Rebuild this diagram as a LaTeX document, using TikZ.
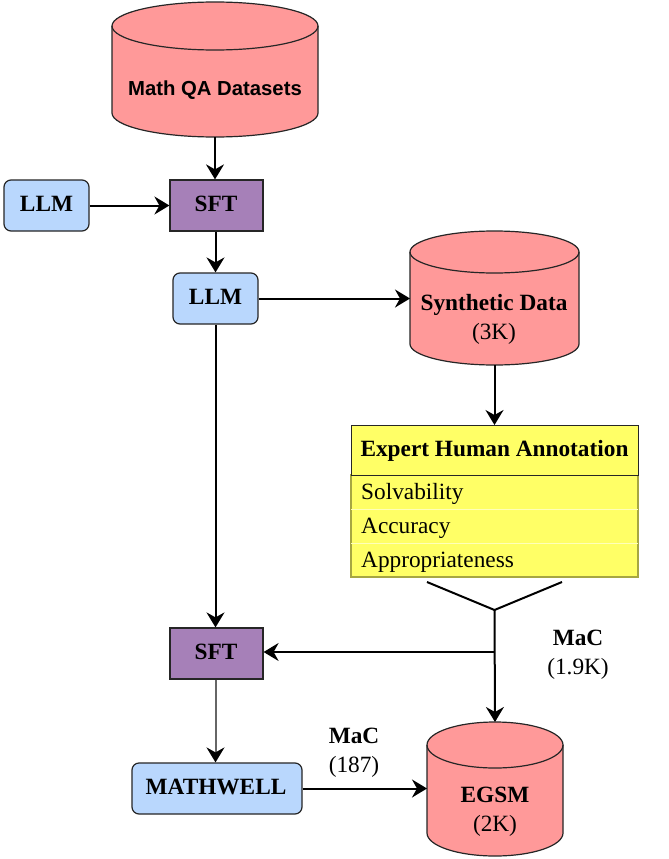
\documentclass[tikz,border=0pt]{standalone}
\usepackage{fontspec}
\setmainfont{Liberation Serif}
\newfontfamily\sansf{Liberation Sans}
\usetikzlibrary{arrows.meta}
\definecolor{cylred}{HTML}{FF9999}
\definecolor{boxblue}{HTML}{B9D7FD}
\definecolor{boxpurple}{HTML}{A680B8}
\definecolor{boxyellow}{HTML}{FFFF66}
\definecolor{edgegray}{HTML}{666666}
\newcommand{\dbcyl}[6]{% name, cx, half width, top, ry, bottom
  \pgfmathsetmacro{\ytopc}{#4+#5}
  \pgfmathsetmacro{\ybotc}{#6-#5}
  \pgfmathsetmacro{\xl}{#2-#3}
  \pgfmathsetmacro{\xr}{#2+#3}
  \draw[cyl] (\xl,\ytopc) arc[start angle=180,end angle=360,x radius=#3,y radius=#5]
    -- (\xr,\ybotc) arc[start angle=0,end angle=180,x radius=#3,y radius=#5] -- cycle;
  \draw[cyl,fill=none] (\xl,\ytopc) arc[start angle=180,end angle=0,x radius=#3,y radius=#5];
  \node[inner sep=0pt,outer sep=0pt,minimum width=2*#3,minimum height=#6-#4] (#1) at (#2,{(#4+#6)/2}) {};
}
\tikzset{
  x=1pt,y=-1pt,
  cyl/.style={fill=cylred,draw=black!85,line width=1.2pt},
  flow/.style={draw=black,line width=2pt,-{Stealth[length=15pt,width=18pt,inset=5pt]}},
  plain/.style={draw=black,line width=2pt},
  txt/.style={font=\fontsize{23.3}{29}\selectfont,inner sep=0pt,align=center},
  btxt/.style={font=\fontsize{23.3}{29}\selectfont\bfseries,inner sep=0pt},
  llm/.style={draw=black!85,line width=1.2pt,fill=boxblue,rounded corners=7pt,inner sep=0pt,minimum height=51pt},
  sft/.style={draw=black!85,line width=1.2pt,fill=boxpurple,inner sep=0pt,minimum width=93pt,minimum height=51pt},
  row/.style={fill=boxyellow,anchor=north west,inner sep=0pt,minimum width=287pt,minimum height=34pt},
}
\begin{document}
\begin{tikzpicture}
\useasboundingbox (0,0) rectangle (669,859);
\fill[white] (0,0) rectangle (669,859);
\dbcyl{qa}{215}{103}{2}{24}{137}
\dbcyl{syn}{494.5}{84.5}{231}{21}{365}
\dbcyl{egsm}{495}{68}{722}{23}{856}
\node[font=\fontsize{20.3}{24}\selectfont\bfseries\sansf,inner sep=0pt] (qal) at (215,90) {Math QA Datasets};
\node[txt] (synl) at (494,319) {\textbf{Synthetic Data}\\(3K)};
\node[txt] (egsml) at (495,812) {\textbf{EGSM}\\(2K)};
\node[llm,minimum width=85pt] (llma) at (46.5,205.5) {};
\node[btxt] (llmat) at (46.5,204) {LLM};
\node[sft] (sfta) at (216.5,205.5) {};
\node[btxt] (sftat) at (216,204) {SFT};
\node[llm,minimum width=85pt] (llmb) at (215.5,298.5) {};
\node[btxt] (llmbt) at (215.5,297) {LLM};
\node[sft] (sftb) at (216.5,653.5) {};
\node[btxt] (sftbt) at (216,652) {SFT};
\node[llm,minimum width=170pt] (mw) at (217,788.5) {};
\node[btxt] (mwt) at (216,787) {MATHWELL};
% annotation table
\node[row] (r1) at (351,475) {};
\node[row] (r2) at (351,509) {};
\node[row] (r3) at (351,543) {};
\draw[draw=black!35!boxyellow,line width=1.2pt] (351,475) rectangle (638,577);
\draw[white!55!boxyellow,line width=.7pt] (351,509) -- (638,509) (351,543) -- (638,543);
\node[row,minimum height=50pt,draw=black!85,line width=1.2pt] (head) at (351,425) {};
\node[btxt] (headt) at (494.5,451) {Expert Human Annotation};
\node[txt,anchor=west] (r1t) at (361,494) {Solvability};
\node[txt,anchor=west] (r2t) at (361,528) {Accuracy};
\node[txt,anchor=west] (r3t) at (361,562) {Appropriateness};
\node[txt] (mac1) at (578,655) {\textbf{MaC}\\(1.9K)};
\node[txt] (mac2) at (354,753) {\textbf{MaC}\\(187)};
\coordinate (yl) at (427,582);
\coordinate (yr) at (562,582);
\coordinate (yj) at (494.5,610);
\coordinate (yb) at (494.5,652);
% connectors
\draw[flow] (qa.south) -- (sfta.north -| qa.south);
\draw[flow] (llma.east) -- (sfta.west);
\draw[flow] (sfta.south -| llmb.north) -- (llmb.north);
\draw[flow] (llmb.east) -- (syn.west |- llmb.east);
\draw[flow] (llmb.south) -- (sftb.north -| llmb.south);
\draw[flow] (syn.south) -- (head.north -| syn.south);
\draw[plain,line join=miter] (yl) -- (yj) -- (yr);
\draw[flow] (yj) -- (egsm.north);
\draw[flow] (yb) -- (sftb.east |- yb);
\draw[flow,draw=edgegray,-{Stealth[length=15pt,width=18pt,inset=5pt,color=black]}] (sftb.south -| llmb.south) -- (mw.north -| llmb.south);
\draw[flow] (mw.east) -- (egsm.west |- mw.east);
\end{tikzpicture}
\end{document}
